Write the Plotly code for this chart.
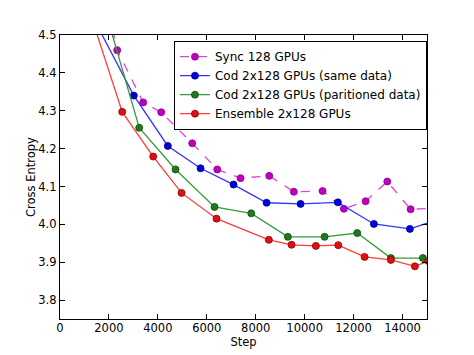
import plotly.graph_objects as go

sync_x = [1500, 2339, 3401, 4137, 5405, 6427, 7380, 8553, 9558, 10732, 11603, 12490, 13377, 14330, 15300]
sync_y = [4.70, 4.460, 4.322, 4.296, 4.214, 4.145, 4.122, 4.128, 4.086, 4.088, 4.041, 4.061, 4.113, 4.040, 4.042]

same_x = [1400, 3017, 4407, 5744, 7093, 8443, 9832, 11357, 12829, 14301, 15700]
same_y = [4.540, 4.340, 4.207, 4.148, 4.105, 4.057, 4.054, 4.058, 4.001, 3.988, 4.018]

part_x = [1500, 3238, 4722, 6316, 7817, 9313, 10814, 12150, 13524, 14832]
part_y = [4.643, 4.255, 4.145, 4.046, 4.029, 3.967, 3.967, 3.977, 3.911, 3.911]

ens_x = [1300, 2543, 3810, 4967, 6398, 8536, 9464, 10458, 11374, 12449, 13524, 14505, 15050]
ens_y = [4.544, 4.297, 4.179, 4.083, 4.015, 3.959, 3.946, 3.943, 3.945, 3.914, 3.906, 3.889, 3.903]

x_ticks = [0, 2000, 4000, 6000, 8000, 10000, 12000, 14000]
y_ticks = [3.8, 3.9, 4.0, 4.1, 4.2, 4.3, 4.4, 4.5]

series = [
    ("Sync 128 GPUs", sync_x, sync_y, "#dd44dd", "#bf00bf", "#8a008a", "dash"),
    ("Cod 2x128 GPUs (same data)", same_x, same_y, "#3333ff", "#0000dd", "#00008a", "solid"),
    ("Cod 2x128 GPUs (paritioned data)", part_x, part_y, "#3a9a3a", "#1f7a1f", "#0f4a0f", "solid"),
    ("Ensemble 2x128 GPUs", ens_x, ens_y, "#ff3b3b", "#dd1111", "#8a0000", "solid"),
]

fig = go.Figure()
for name, xs, ys, lc, mc, ec, dash in series:
    fig.add_trace(go.Scatter(
        x=xs, y=ys, name=name, mode="lines+markers",
        line=dict(color=lc, width=1.3, dash=dash),
        marker=dict(color=mc, size=7, line=dict(color=ec, width=0.8)),
    ))

axis_common = dict(
    showline=True, linecolor="black", linewidth=1.2, mirror="allticks",
    ticks="inside", ticklen=5, tickcolor="black", tickwidth=1,
    showgrid=False, zeroline=False, automargin=False,
    tickfont=dict(family="DejaVu Sans", size=11.5, color="black"),
)

fig.update_layout(
    width=466, height=347,
    margin=dict(l=52, r=47, t=27, b=36),
    paper_bgcolor="white", plot_bgcolor="white",
    font=dict(family="DejaVu Sans", size=12, color="black"),
    xaxis=dict(range=[0, 15000], tickvals=x_ticks, ticktext=[str(v) for v in x_ticks],
               ticklabelstandoff=-2,
               title=dict(text="Step", standoff=0, font=dict(size=11.5)), **axis_common),
    yaxis=dict(range=[3.75, 4.5], tickvals=y_ticks, ticktext=[f"{v:.1f}" for v in y_ticks],
               title=dict(text="Cross Entropy", standoff=0, font=dict(size=11.5)), **axis_common),
    legend=dict(x=0.31, y=0.979, xanchor="left", yanchor="top",
                bgcolor="white", bordercolor="black", borderwidth=1.2,
                font=dict(family="DejaVu Sans", size=12), tracegroupgap=0,
                itemwidth=30),
    showlegend=True,
)

fig.write_html("out.html")
